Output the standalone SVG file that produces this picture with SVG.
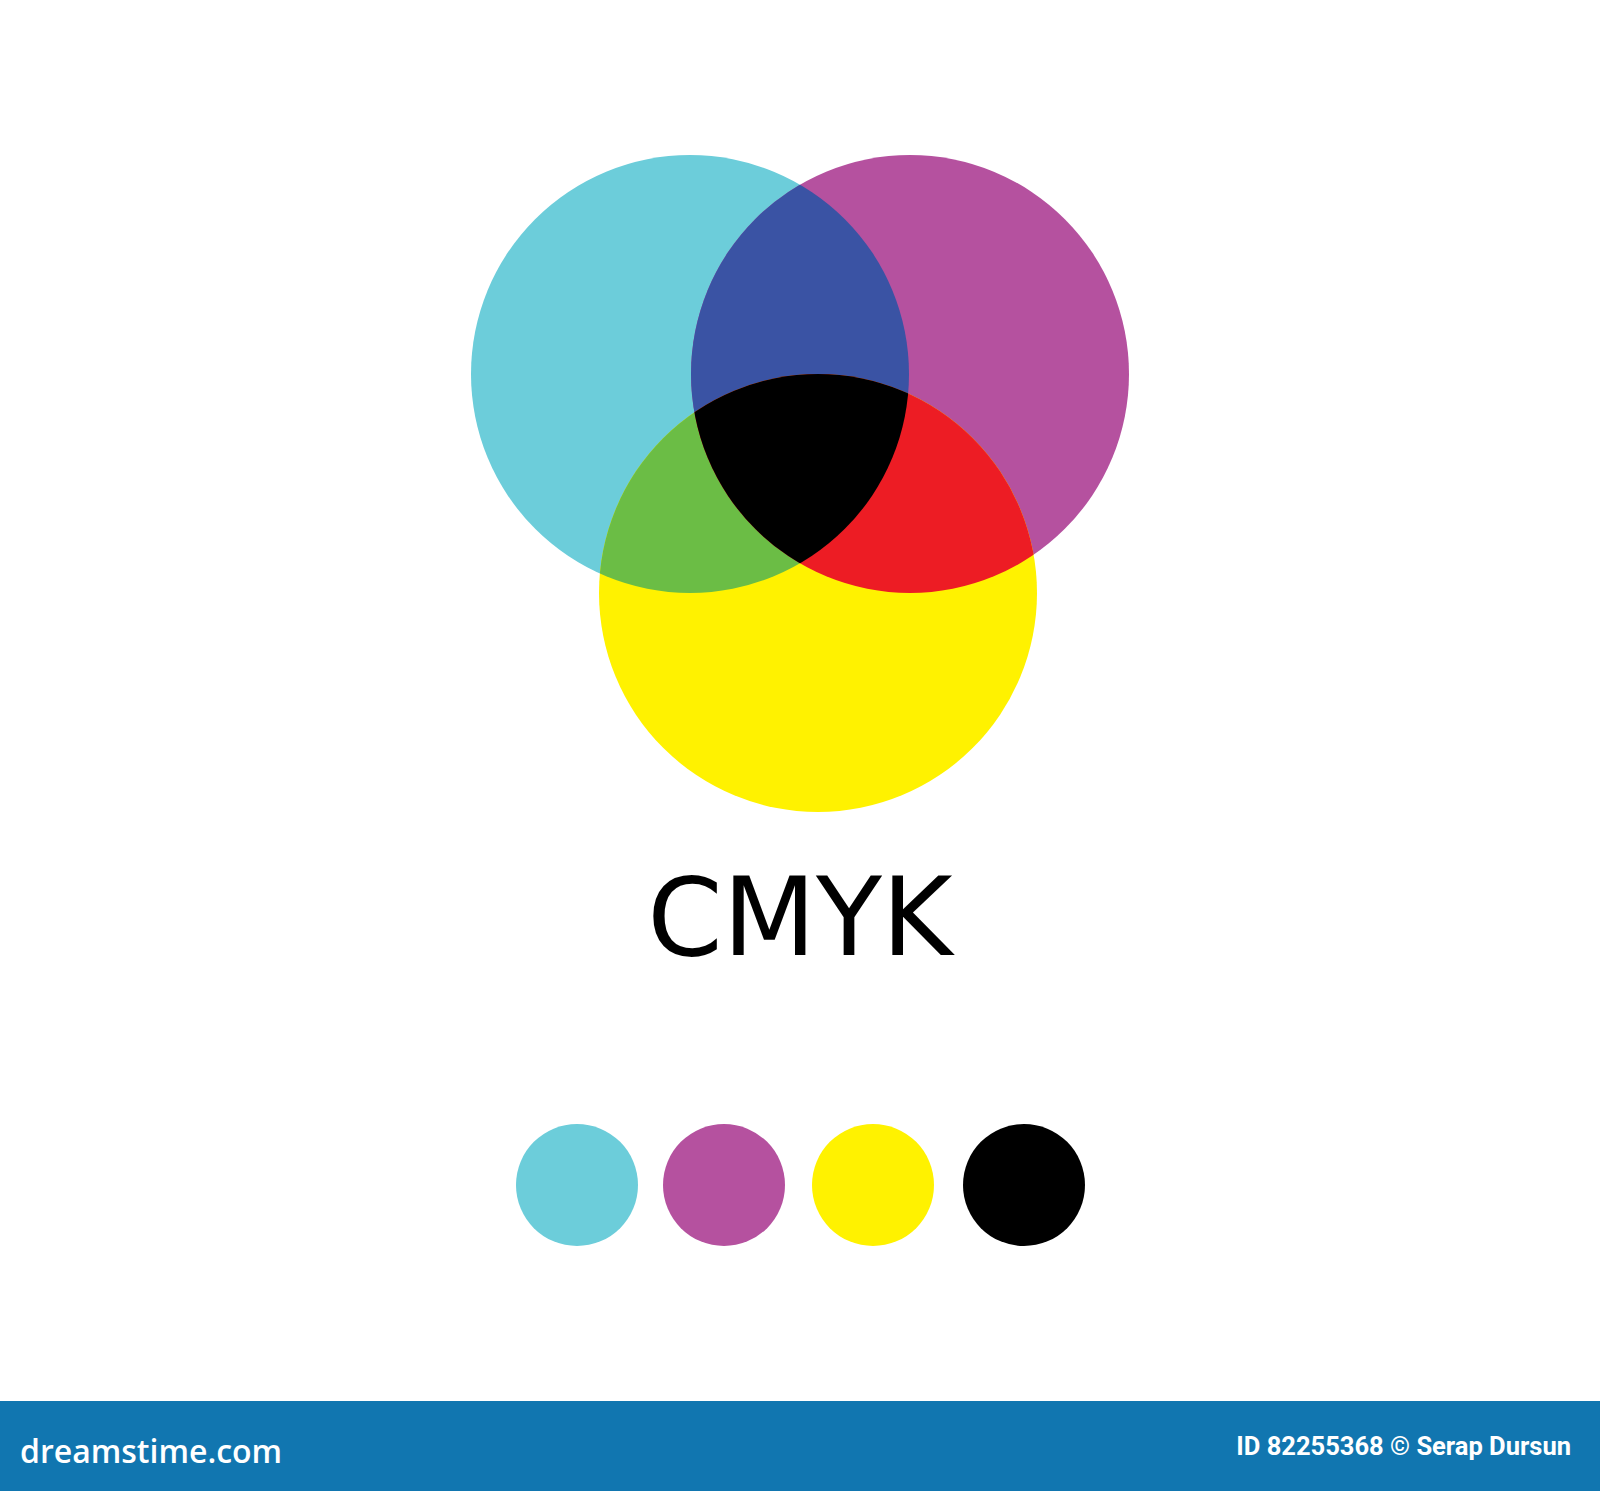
<svg xmlns="http://www.w3.org/2000/svg" width="1600" height="1491" viewBox="0 0 1600 1491">
<style>
.c{fill:#6ccdda}.m{fill:#b5519f}.y{fill:#fff200}.k{fill:#000}
.g{fill:#6bbd45}.b{fill:#3a53a4}.r{fill:#ed1c24}
</style>
<defs>
<clipPath id="clipC"><circle cx="690" cy="374" r="219"/></clipPath>
<clipPath id="clipM"><circle cx="910" cy="374" r="219"/></clipPath>
</defs>
<rect width="1600" height="1491" fill="#fff"/>
<g id="venn">
<circle id="cyan" class="c" cx="690" cy="374" r="219"/>
<circle id="magenta" class="m" cx="910" cy="374" r="219"/>
<circle id="yellow" class="y" cx="818" cy="593" r="219"/>
<circle id="blue" class="b" cx="910" cy="374" r="219" clip-path="url(#clipC)"/>
<circle id="green" class="g" cx="818" cy="593" r="219" clip-path="url(#clipC)"/>
<circle id="red" class="r" cx="818" cy="593" r="219" clip-path="url(#clipM)"/>
<g clip-path="url(#clipC)"><circle id="black" class="k" cx="818" cy="593" r="219" clip-path="url(#clipM)"/></g>
</g>
<text id="title" x="800" y="955" text-anchor="middle" font-family="DejaVu Sans, sans-serif" font-size="108" fill="#000">CMYK</text>
<g id="swatches">
<circle class="c" cx="577" cy="1185" r="61"/>
<circle class="m" cx="724" cy="1185" r="61"/>
<circle class="y" cx="873" cy="1185" r="61"/>
<circle class="k" cx="1024" cy="1185" r="61"/>
</g>
<g id="footer">
<rect x="0" y="1401" width="1600" height="90" fill="#1176b0"/>
<text x="20" y="1463" font-family="Open Sans, sans-serif" font-size="32" font-weight="600" fill="#fff">dreamstime.com</text>
<text x="1571" y="1455" text-anchor="end" font-family="Roboto, sans-serif" font-size="25.5" font-weight="bold" fill="#fff">ID 82255368 © Serap Dursun</text>
</g>
</svg>
